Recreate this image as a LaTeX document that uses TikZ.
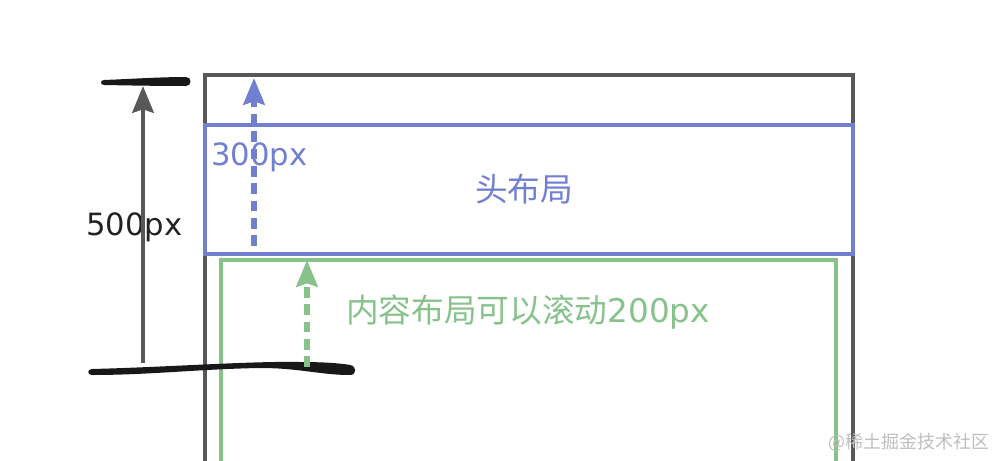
\documentclass[tikz,border=0pt]{standalone}
\usepackage{fontspec}
\setmainfont{DejaVu Sans}
\newfontfamily\cjk{Noto Sans CJK SC}
\usetikzlibrary{arrows.meta}
\definecolor{framegray}{RGB}{88,88,88}
\definecolor{headblue}{RGB}{112,127,208}
\definecolor{bodygreen}{RGB}{135,194,138}
\definecolor{brush}{RGB}{24,24,24}
\definecolor{wmgray}{RGB}{190,190,190}
\definecolor{txtblack}{RGB}{34,34,34}
\begin{document}
\begin{tikzpicture}[x=0.75pt,y=-0.75pt,
  frame/.style={draw=framegray,line width=3.5pt},
  headbox/.style={draw=headblue,line width=3.2pt},
  bodybox/.style={draw=bodygreen,line width=3pt},
  tipstyle/.style={-{Stealth[length=20pt,width=16pt,inset=2.5pt]}},
  dimarrow/.style={draw=framegray,line width=3.5pt,tipstyle},
  headarrow/.style={draw=headblue,line width=4pt,dash pattern=on 8pt off 5pt,tipstyle},
  bodyarrow/.style={draw=bodygreen,line width=4pt,dash pattern=on 8pt off 5pt,tipstyle},
  lbl/.style={inner sep=0pt,font=\fontsize{23pt}{26pt}\selectfont},
  cjklbl/.style={inner sep=0pt,font=\cjk\fontsize{24.5pt}{28pt}\selectfont}
]
\useasboundingbox (0,0) rectangle (994,460);
\clip (0,0) rectangle (994,460);
% outer frame
\draw[frame] (205,475) -- (205,75) -- (853,75) -- (853,475);
% content layout
\draw[bodybox] (221,475) -- (221,260) -- (836,260) -- (836,475);
% header layout
\draw[headbox] (205,125) rectangle (853,254);
% labels
\node[cjklbl,text=headblue] (headlbl) at (524,189) {头布局};
\node[lbl,text=headblue,anchor=base west] (h300) at (211,165) {300px};
\node[lbl,text=txtblack,anchor=base west] (h500) at (86,235) {500px};
\node[lbl,text=bodygreen,anchor=base west,font=\fontsize{24.5pt}{28pt}\selectfont] (scroll) at (346,322) {{\cjk 内容布局可以滚动}200px};
\node[inner sep=0pt,text=wmgray,anchor=east,font=\cjk\fontsize{13.5pt}{16pt}\selectfont] (wm) at (990,442) {@稀土掘金技术社区};
% brush strokes
\fill[brush] (104,80) .. controls (130,79) and (160,77) .. (186,77)
  .. controls (192,77) and (192,86) .. (186,86)
  .. controls (160,86) and (130,85.5) .. (104,85)
  .. controls (100,85) and (100,80) .. (104,80) -- cycle;
\fill[brush] (92,369) .. controls (170,367) and (250,361) .. (300,362)
  .. controls (330,362) and (345,364) .. (350,365)
  .. controls (357,366) and (357,375) .. (350,375)
  .. controls (320,375) and (300,368) .. (260,368)
  .. controls (200,369) and (150,375) .. (92,375)
  .. controls (87,375) and (87,369) .. (92,369) -- cycle;
% arrows
\coordinate (g0) at (143,363);
\coordinate (g1) at (143,86);
\coordinate (b0) at (254,246);
\coordinate (b1) at (254,78);
\coordinate (c0) at (307,367);
\coordinate (c1) at (307,260);
\draw[dimarrow] (g0) -- (g1);
\draw[headarrow] (b0) -- (b1);
\draw[bodyarrow] (c0) -- (c1);
\end{tikzpicture}
\end{document}
